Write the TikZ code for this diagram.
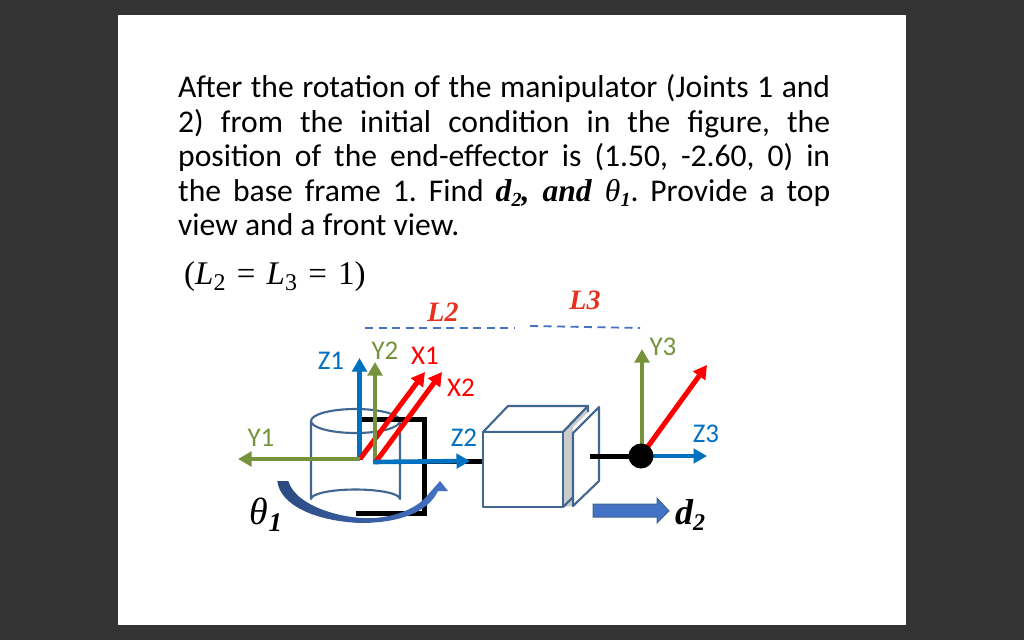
\documentclass[tikz,border=0pt]{standalone}
\usepackage{fontspec}
\setmainfont{Carlito}
\newfontfamily\serifbi{Liberation Serif}
\usetikzlibrary{arrows.meta}
\definecolor{pagebg}{HTML}{333333}
\definecolor{axblue}{HTML}{0070C0}
\definecolor{axgreen}{HTML}{76923C}
\definecolor{axred}{HTML}{FF0000}
\definecolor{shapeblue}{HTML}{41668F}
\definecolor{fillblue}{HTML}{4472C4}
\definecolor{lblred}{HTML}{E8301F}
\newcommand{\serifbold}{\serifbi\bfseries\itshape}
\newcommand{\serifital}{\serifbi\mdseries\itshape}
\tikzset{
  x=1pt,y=-1pt,
  textline/.style={anchor=base west,inner sep=0pt,font=\fontsize{31.6}{34}\selectfont,text=black},
  axis/.style={line width=4.6pt,-{Triangle[length=13.5pt,width=14.5pt]}},
  redaxis/.style={axis,draw=axred,line width=5pt},
  bluaxis/.style={axis,draw=axblue},
  grnaxis/.style={axis,draw=axgreen},
  outline/.style={draw=shapeblue,line width=2.1pt,line join=round},
  link/.style={draw=black,line width=5pt},
  axlabel/.style={inner sep=0pt,font=\fontsize{27}{28}\selectfont},
  linklabel/.style={inner sep=0pt,text=lblred,font=\fontsize{28}{28}\serifbold},
  dim/.style={draw=fillblue,line width=1.8pt,dash pattern=on 8pt off 5.5pt},
}
\newcommand{\justline}[1]{\makebox[652pt][s]{\frenchspacing #1}}
\begin{document}
\begin{tikzpicture}
\useasboundingbox (0,0) rectangle (1024,640);
\fill[pagebg] (0,0) rectangle (1024,640);
\fill[white] (118,15) rectangle (906,625);

% paragraph
\node[textline] (t1) at (178,97.5) {\justline{After the rotation of the manipulator (Joints 1 and}};
\node[textline] (t2) at (178,132.5) {\justline{2) from the initial condition in the figure, the}};
\node[textline] (t3) at (178,166.5) {\justline{position of the end-effector is (1.50, -2.60, 0) in}};
\node[textline] (t4) at (178,201.5) {\justline{the base frame 1. Find {\serifbold d\raisebox{-5pt}{\fontsize{20}{20}\selectfont 2}, and {\serifital θ}\raisebox{-5pt}{\fontsize{20}{20}\selectfont 1}}. Provide a top}};
\node[textline] (t5) at (178,235.5) {view and a front view.};
\node[textline,font=\fontsize{33}{34}\serifbi] (t6) at (184,284) {({\itshape L}\raisebox{-6pt}{\fontsize{24}{24}\selectfont 2}\hspace{3pt} = \hspace{3pt}{\itshape L}\raisebox{-6pt}{\fontsize{24}{24}\selectfont 3}\hspace{3pt} = \hspace{3pt}1)};

% cylinder
\draw[outline] (311,421) -- (311,499) arc[start angle=180,end angle=360,x radius=44.5,y radius=9.5] -- (400,421);
\draw[outline] (355.5,421) ellipse[x radius=44.5,y radius=12];

% black link
\coordinate (b1) at (362,419); \coordinate (b2) at (424,419);
\coordinate (b3) at (424,513); \coordinate (b4) at (356,513);
\draw[link,line join=miter] (b1) -- (b2) -- (b3) -- (b4);
\coordinate (b5) at (424,461); \coordinate (b6) at (483,461);
\draw[link] (b5) -- (b6);

% rotation arrow
\shade[left color=fillblue!65!black,right color=fillblue]
  (277.3,481) -- (288.3,481) .. controls (296,507) and (345,520) .. (375,518)
  .. controls (398,516) and (416,508) .. (426,497) -- (440,481) -- (448,491) -- (438,491)
  .. controls (428,512) and (400,523) .. (360,523)
  .. controls (315,521) and (280,505) .. cycle;

% frames 1 and 2
\coordinate (o1) at (360,459); \coordinate (o2) at (375,463);
\coordinate (z1e) at (359.5,358); \coordinate (y2e) at (375,362);
\coordinate (x1e) at (425,372); \coordinate (x2e) at (442,372);
\coordinate (y1e) at (238,459); \coordinate (z2e) at (470,461);
\draw[bluaxis] (359.5,460) -- (z1e);
\draw[redaxis] (o1) -- (x1e);
\draw[grnaxis] (o2) -- (y2e);
\draw[redaxis] (o2) -- (x2e);
\draw[grnaxis] (o1) -- (y1e);
\draw[bluaxis] (373,462) -- (z2e);

% box
\draw[outline,fill=white] (483,432) -- (508,406) -- (588,406) -- (563,432) -- cycle;
\fill[black!20] (563,432) -- (588,407) -- (588,412) -- (573,427) -- (573,506) -- (563,507) -- cycle;
\draw[outline] (563,432) -- (588,406) -- (588,412);
\draw[outline] (563,507) -- (573,497);
\draw[outline,fill=white] (483,432) rectangle (563,507);
\draw[outline,fill=white] (573,433) -- (599,407) -- (599,481) -- (573,506) -- cycle;

% frame 3
\coordinate (o3) at (641,456);
\coordinate (y3e) at (642,349); \coordinate (x3e) at (707,365); \coordinate (z3e) at (707,456);
\coordinate (l3s) at (590,456);
\draw[grnaxis] (642,450) -- (y3e);
\draw[redaxis] (o3) -- (x3e);
\draw[bluaxis] (o3) -- (z3e);
\draw[link] (l3s) -- (o3);
\node[circle,fill=black,minimum size=25pt,inner sep=0pt] (ee) at (o3) {};

% dimension dashes
\coordinate (d1) at (365,328); \coordinate (d2) at (515,328);
\coordinate (d3) at (530,326); \coordinate (d4) at (640,328);
\draw[dim] (d1) -- (d2);
\draw[dim] (d3) -- (d4);

% block arrow d2
\filldraw[fill=fillblue,draw=shapeblue,line width=1pt]
  (593,504) -- (657,504) -- (657,498) -- (669,511) -- (657,523) -- (657,517) -- (593,517) -- cycle;

% labels
\node[axlabel,text=axblue] (lz1) at (331,361) {Z1};
\node[axlabel,text=axgreen] (ly2) at (385,351) {Y2};
\node[axlabel,text=axred] (lx1) at (425,356) {X1};
\node[axlabel,text=axred] (lx2) at (461,388) {X2};
\node[axlabel,text=axgreen] (ly1) at (261,438) {Y1};
\node[axlabel,text=axblue] (lz2) at (464,438) {Z2};
\node[axlabel,text=axgreen] (ly3) at (663,347) {Y3};
\node[axlabel,text=axblue] (lz3) at (706,434) {Z3};
\node[linklabel] (ll2) at (443,312) {L2};
\node[linklabel] (ll3) at (585,300) {L3};
\node[inner sep=0pt,font=\fontsize{38}{38}\serifital] (theta) at (266,515) {θ\raisebox{-7pt}{\fontsize{27}{27}\serifbold 1}};
\node[inner sep=0pt,font=\fontsize{36}{36}\serifbold] (dtwo) at (690,515) {d\raisebox{-6pt}{\fontsize{24}{24}\selectfont 2}};
\end{tikzpicture}
\end{document}
